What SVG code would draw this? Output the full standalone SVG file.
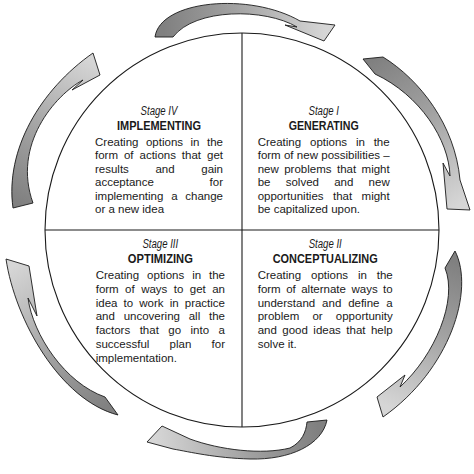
<svg xmlns="http://www.w3.org/2000/svg" width="474" height="474" viewBox="0 0 474 474">
<style>
.body{font-family:"Liberation Sans",Arial,sans-serif;font-size:11.5px;fill:#1a1a1a}
.stage{font-family:"Liberation Sans",Arial,sans-serif;font-size:12px;font-style:italic;fill:#1a1a1a}
.title{font-family:"Liberation Sans",Arial,sans-serif;font-size:12px;font-weight:bold;fill:#1a1a1a}
.arrow{stroke:#1a1a1a;stroke-width:0.9;stroke-linejoin:miter}
.frame{fill:none;stroke:#1a1a1a;stroke-width:1.1}
</style>
<defs>
<linearGradient id="g1" gradientUnits="userSpaceOnUse" x1="164" y1="37" x2="325" y2="30"><stop offset="0" stop-color="#808080"/><stop offset="0.45" stop-color="#a2a2a2"/><stop offset="1" stop-color="#d6d6d6"/></linearGradient>
<linearGradient id="g2" gradientUnits="userSpaceOnUse" x1="370" y1="62" x2="458" y2="205"><stop offset="0" stop-color="#808080"/><stop offset="0.45" stop-color="#a2a2a2"/><stop offset="1" stop-color="#d6d6d6"/></linearGradient>
<linearGradient id="g3" gradientUnits="userSpaceOnUse" x1="450" y1="260" x2="385" y2="405"><stop offset="0" stop-color="#808080"/><stop offset="0.45" stop-color="#a2a2a2"/><stop offset="1" stop-color="#d6d6d6"/></linearGradient>
<linearGradient id="g4" gradientUnits="userSpaceOnUse" x1="317" y1="421" x2="155" y2="440"><stop offset="0" stop-color="#808080"/><stop offset="0.45" stop-color="#a2a2a2"/><stop offset="1" stop-color="#d6d6d6"/></linearGradient>
<linearGradient id="g5" gradientUnits="userSpaceOnUse" x1="111" y1="406" x2="15" y2="265"><stop offset="0" stop-color="#808080"/><stop offset="0.45" stop-color="#a2a2a2"/><stop offset="1" stop-color="#d6d6d6"/></linearGradient>
<linearGradient id="g6" gradientUnits="userSpaceOnUse" x1="23" y1="205" x2="95" y2="62"><stop offset="0" stop-color="#808080"/><stop offset="0.45" stop-color="#a2a2a2"/><stop offset="1" stop-color="#d6d6d6"/></linearGradient>
</defs>
<rect width="474" height="474" fill="#ffffff"/>
<g id="frame">
<circle class="frame" cx="242" cy="230" r="197"/>
<line class="frame" x1="242" y1="33" x2="242" y2="427"/>
<line class="frame" x1="45" y1="230" x2="439" y2="230"/>
</g>
<g id="connectors">
<path class="arrow" fill="url(#g1)" d="M155,37 C160,0 250,-8 300,21 L335,25 L324,41 L285,25 L297,27 C265,8 195,8 173,37 Z"/>
<path class="arrow" fill="url(#g2)" d="M363,59 L383,57 C420,80 455,125 460,180 L470,210 L447,209 L443,163 L450,176 C449,140 420,95 375,74 Z"/>
<path class="arrow" fill="url(#g3)" d="M455,251 C475,290 450,370 383,417 L377,397 L405,375 L400,387 C435,355 458,300 445,268 Z"/>
<path class="arrow" fill="url(#g4)" d="M327,420 C322,445 290,460 250,459 C215,458 190,452 173,449 L147,442 L162,426 L190,439 C220,450 262,455 290,448 C302,442 306,432 307,422 Z"/>
<path class="arrow" fill="url(#g5)" d="M118,415 C60,400 15,320 6,259 L29,266 L37,316 L28,298 C33,335 65,383 105,397 Z"/>
<path class="arrow" fill="url(#g6)" d="M13,208 C5,150 40,90 93,53 L100,75 L72,90 L83,80 C55,95 12,145 33,203 Z"/>
</g>
<g id="stage-4-implementing">
<text class="stage" x="159" y="115" text-anchor="middle" textLength="36.8" lengthAdjust="spacingAndGlyphs">Stage IV</text>
<text class="title" x="159" y="129.5" text-anchor="middle" textLength="84" lengthAdjust="spacingAndGlyphs">IMPLEMENTING</text>
<text class="body" x="95" y="145.5" word-spacing="4.3">Creating options in the</text>
<text class="body" x="95" y="159" word-spacing="2.75">form of actions that get</text>
<text class="body" x="95" y="172.5" word-spacing="23.4">results and gain</text>
<text class="body" x="95" y="186" word-spacing="52.6">acceptance for</text>
<text class="body" x="95" y="199.5" word-spacing="4.55">implementing a change</text>
<text class="body" x="95" y="213">or a new idea</text>
</g>
<g id="stage-1-generating">
<text class="stage" x="323.7" y="115" text-anchor="middle" textLength="30.4" lengthAdjust="spacingAndGlyphs">Stage I</text>
<text class="title" x="323.7" y="129.5" text-anchor="middle" textLength="70" lengthAdjust="spacingAndGlyphs">GENERATING</text>
<text class="body" x="257.7" y="145.5" word-spacing="5.63">Creating options in the</text>
<text class="body" x="257.7" y="159" word-spacing="0.09">form of new possibilities –</text>
<text class="body" x="257.7" y="172.5" word-spacing="2.24">new problems that might</text>
<text class="body" x="257.7" y="186" word-spacing="12.04">be solved and new</text>
<text class="body" x="257.7" y="199.5" word-spacing="6.24">opportunities that might</text>
<text class="body" x="257.7" y="213">be capitalized upon.</text>
</g>
<g id="stage-3-optimizing">
<text class="stage" x="160.3" y="248" text-anchor="middle" textLength="35.8" lengthAdjust="spacingAndGlyphs">Stage III</text>
<text class="title" x="160.3" y="263" text-anchor="middle" textLength="65" lengthAdjust="spacingAndGlyphs">OPTIMIZING</text>
<text class="body" x="95.7" y="279" word-spacing="4.75">Creating options in the</text>
<text class="body" x="95.7" y="292.8" word-spacing="3.23">form of ways to get an</text>
<text class="body" x="95.7" y="306.6" word-spacing="2.93">idea to work in practice</text>
<text class="body" x="95.7" y="320.4" word-spacing="5.6">and uncovering all the</text>
<text class="body" x="95.7" y="334.2" word-spacing="6.27">factors that go into a</text>
<text class="body" x="95.7" y="348" word-spacing="17.03">successful plan for</text>
<text class="body" x="95.7" y="361.8">implementation.</text>
</g>
<g id="stage-2-conceptualizing">
<text class="stage" x="325.2" y="248" text-anchor="middle" textLength="33.1" lengthAdjust="spacingAndGlyphs">Stage II</text>
<text class="title" x="325.2" y="263" text-anchor="middle" textLength="105" lengthAdjust="spacingAndGlyphs">CONCEPTUALIZING</text>
<text class="body" x="257.7" y="279" word-spacing="6.65">Creating options in the</text>
<text class="body" x="257.7" y="292.8" word-spacing="2.27">form of alternate ways to</text>
<text class="body" x="257.7" y="306.6" word-spacing="3.66">understand and define a</text>
<text class="body" x="257.7" y="320.4" word-spacing="9.98">problem or opportunity</text>
<text class="body" x="257.7" y="334.2" word-spacing="2.26">and good ideas that help</text>
<text class="body" x="257.7" y="348">solve it.</text>
</g>
</svg>
